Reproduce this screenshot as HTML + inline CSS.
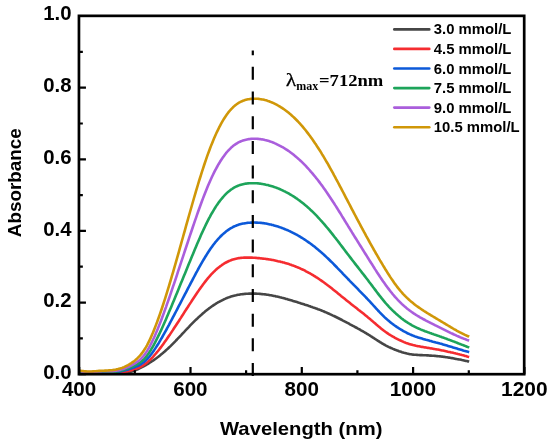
<!DOCTYPE html>
<html><head><meta charset="utf-8"><title>Absorbance spectra</title>
<style>html,body{margin:0;padding:0;background:#fff}svg{display:block}</style></head>
<body>
<svg width="550" height="444" viewBox="0 0 550 444">
<rect width="550" height="444" fill="#fff"/>
<g fill="none" stroke-width="2.6" stroke-linejoin="round" stroke-linecap="butt">
<path stroke="#464646" d="M80.0 373.3 L81.0 373.3 L82.0 373.4 L83.0 373.4 L84.0 373.4 L85.0 373.4 L86.0 373.5 L87.0 373.5 L88.0 373.5 L89.0 373.5 L90.0 373.6 L91.0 373.6 L92.0 373.6 L93.0 373.7 L94.0 373.7 L95.0 373.7 L96.0 373.7 L97.0 373.8 L98.0 373.8 L99.0 373.8 L100.0 373.8 L101.0 373.8 L102.0 373.8 L103.0 373.8 L104.0 373.8 L105.0 373.8 L106.0 373.8 L107.0 373.8 L108.0 373.8 L109.0 373.8 L110.0 373.7 L111.0 373.7 L112.0 373.7 L113.0 373.6 L114.0 373.6 L115.0 373.6 L116.0 373.5 L117.0 373.5 L118.0 373.4 L119.0 373.4 L120.0 373.3 L121.0 373.2 L122.0 373.2 L123.0 373.1 L124.0 373.0 L125.0 372.9 L126.0 372.7 L127.0 372.6 L128.0 372.4 L129.0 372.2 L130.0 372.0 L131.0 371.7 L132.0 371.5 L133.0 371.1 L134.0 370.8 L135.0 370.4 L136.0 370.0 L137.0 369.6 L138.0 369.2 L139.0 368.7 L140.0 368.2 L141.0 367.7 L142.0 367.2 L143.0 366.7 L144.0 366.1 L145.0 365.5 L146.0 365.0 L147.0 364.4 L148.0 363.8 L149.0 363.2 L150.0 362.5 L151.0 361.9 L152.0 361.2 L153.0 360.6 L154.0 359.9 L155.0 359.2 L156.0 358.5 L157.0 357.7 L158.0 357.0 L159.0 356.2 L160.0 355.4 L161.0 354.6 L162.0 353.8 L163.0 352.9 L164.0 352.1 L165.0 351.2 L166.0 350.3 L167.0 349.4 L168.0 348.5 L169.0 347.5 L170.0 346.6 L171.0 345.6 L172.0 344.6 L173.0 343.6 L174.0 342.6 L175.0 341.6 L176.0 340.5 L177.0 339.5 L178.0 338.4 L179.0 337.4 L180.0 336.3 L181.0 335.3 L182.0 334.2 L183.0 333.1 L184.0 332.1 L185.0 331.0 L186.0 329.9 L187.0 328.9 L188.0 327.8 L189.0 326.8 L190.0 325.7 L191.0 324.7 L192.0 323.7 L193.0 322.7 L194.0 321.7 L195.0 320.7 L196.0 319.7 L197.0 318.8 L198.0 317.8 L199.0 316.9 L200.0 316.0 L201.0 315.1 L202.0 314.2 L203.0 313.3 L204.0 312.5 L205.0 311.6 L206.0 310.8 L207.0 310.0 L208.0 309.2 L209.0 308.4 L210.0 307.7 L211.0 307.0 L212.0 306.3 L213.0 305.6 L214.0 304.9 L215.0 304.3 L216.0 303.6 L217.0 303.0 L218.0 302.4 L219.0 301.9 L220.0 301.3 L221.0 300.8 L222.0 300.3 L223.0 299.8 L224.0 299.3 L225.0 298.9 L226.0 298.4 L227.0 298.0 L228.0 297.6 L229.0 297.3 L230.0 296.9 L231.0 296.6 L232.0 296.3 L233.0 296.0 L234.0 295.7 L235.0 295.5 L236.0 295.3 L237.0 295.0 L238.0 294.8 L239.0 294.7 L240.0 294.5 L241.0 294.3 L242.0 294.2 L243.0 294.1 L244.0 294.0 L245.0 293.9 L246.0 293.8 L247.0 293.7 L248.0 293.7 L249.0 293.6 L250.0 293.6 L251.0 293.6 L252.0 293.6 L253.0 293.6 L254.0 293.6 L255.0 293.6 L256.0 293.6 L257.0 293.7 L258.0 293.7 L259.0 293.8 L260.0 293.9 L261.0 294.0 L262.0 294.1 L263.0 294.2 L264.0 294.3 L265.0 294.4 L266.0 294.5 L267.0 294.7 L268.0 294.8 L269.0 295.0 L270.0 295.2 L271.0 295.3 L272.0 295.5 L273.0 295.7 L274.0 295.9 L275.0 296.1 L276.0 296.4 L277.0 296.6 L278.0 296.8 L279.0 297.0 L280.0 297.3 L281.0 297.5 L282.0 297.8 L283.0 298.0 L284.0 298.3 L285.0 298.6 L286.0 298.9 L287.0 299.1 L288.0 299.4 L289.0 299.7 L290.0 300.0 L291.0 300.3 L292.0 300.6 L293.0 300.9 L294.0 301.2 L295.0 301.5 L296.0 301.8 L297.0 302.1 L298.0 302.4 L299.0 302.8 L300.0 303.1 L301.0 303.4 L302.0 303.7 L303.0 304.0 L304.0 304.3 L305.0 304.7 L306.0 305.0 L307.0 305.3 L308.0 305.6 L309.0 306.0 L310.0 306.3 L311.0 306.7 L312.0 307.0 L313.0 307.4 L314.0 307.7 L315.0 308.1 L316.0 308.4 L317.0 308.8 L318.0 309.2 L319.0 309.5 L320.0 309.9 L321.0 310.3 L322.0 310.7 L323.0 311.1 L324.0 311.5 L325.0 312.0 L326.0 312.4 L327.0 312.8 L328.0 313.3 L329.0 313.7 L330.0 314.2 L331.0 314.6 L332.0 315.1 L333.0 315.6 L334.0 316.0 L335.0 316.5 L336.0 317.0 L337.0 317.5 L338.0 318.0 L339.0 318.5 L340.0 319.0 L341.0 319.5 L342.0 320.0 L343.0 320.6 L344.0 321.1 L345.0 321.6 L346.0 322.1 L347.0 322.7 L348.0 323.2 L349.0 323.7 L350.0 324.3 L351.0 324.8 L352.0 325.3 L353.0 325.9 L354.0 326.4 L355.0 327.0 L356.0 327.5 L357.0 328.0 L358.0 328.6 L359.0 329.1 L360.0 329.7 L361.0 330.3 L362.0 330.8 L363.0 331.4 L364.0 332.0 L365.0 332.6 L366.0 333.2 L367.0 333.8 L368.0 334.4 L369.0 335.0 L370.0 335.6 L371.0 336.3 L372.0 336.9 L373.0 337.6 L374.0 338.2 L375.0 338.9 L376.0 339.5 L377.0 340.2 L378.0 340.8 L379.0 341.4 L380.0 342.1 L381.0 342.7 L382.0 343.3 L383.0 343.9 L384.0 344.5 L385.0 345.0 L386.0 345.6 L387.0 346.1 L388.0 346.6 L389.0 347.1 L390.0 347.5 L391.0 348.0 L392.0 348.4 L393.0 348.9 L394.0 349.3 L395.0 349.7 L396.0 350.1 L397.0 350.4 L398.0 350.8 L399.0 351.2 L400.0 351.5 L401.0 351.8 L402.0 352.2 L403.0 352.5 L404.0 352.8 L405.0 353.0 L406.0 353.3 L407.0 353.6 L408.0 353.8 L409.0 354.0 L410.0 354.2 L411.0 354.3 L412.0 354.5 L413.0 354.6 L414.0 354.7 L415.0 354.8 L416.0 354.8 L417.0 354.9 L418.0 355.0 L419.0 355.0 L420.0 355.1 L421.0 355.1 L422.0 355.1 L423.0 355.2 L424.0 355.2 L425.0 355.3 L426.0 355.3 L427.0 355.4 L428.0 355.4 L429.0 355.5 L430.0 355.6 L431.0 355.6 L432.0 355.7 L433.0 355.8 L434.0 355.8 L435.0 355.9 L436.0 356.0 L437.0 356.1 L438.0 356.2 L439.0 356.3 L440.0 356.4 L441.0 356.5 L442.0 356.6 L443.0 356.8 L444.0 356.9 L445.0 357.0 L446.0 357.2 L447.0 357.3 L448.0 357.5 L449.0 357.6 L450.0 357.8 L451.0 358.0 L452.0 358.1 L453.0 358.3 L454.0 358.5 L455.0 358.7 L456.0 358.9 L457.0 359.1 L458.0 359.2 L459.0 359.4 L460.0 359.6 L461.0 359.8 L462.0 360.1 L463.0 360.3 L464.0 360.5 L465.0 360.7 L466.0 360.9 L467.0 361.1 L468.0 361.4 L468.8 361.5 L469.2 361.6"/>
<path stroke="#F52C30" d="M80.0 373.1 L81.0 373.2 L82.0 373.3 L83.0 373.4 L84.0 373.5 L85.0 373.6 L86.0 373.6 L87.0 373.7 L88.0 373.7 L89.0 373.7 L90.0 373.7 L91.0 373.7 L92.0 373.7 L93.0 373.7 L94.0 373.6 L95.0 373.6 L96.0 373.6 L97.0 373.5 L98.0 373.5 L99.0 373.5 L100.0 373.4 L101.0 373.4 L102.0 373.4 L103.0 373.4 L104.0 373.4 L105.0 373.3 L106.0 373.3 L107.0 373.3 L108.0 373.3 L109.0 373.2 L110.0 373.2 L111.0 373.2 L112.0 373.1 L113.0 373.1 L114.0 373.0 L115.0 373.0 L116.0 372.9 L117.0 372.8 L118.0 372.7 L119.0 372.6 L120.0 372.5 L121.0 372.4 L122.0 372.3 L123.0 372.1 L124.0 371.9 L125.0 371.8 L126.0 371.6 L127.0 371.4 L128.0 371.1 L129.0 370.9 L130.0 370.6 L131.0 370.4 L132.0 370.1 L133.0 369.8 L134.0 369.5 L135.0 369.1 L136.0 368.8 L137.0 368.4 L138.0 368.0 L139.0 367.5 L140.0 367.0 L141.0 366.5 L142.0 366.0 L143.0 365.4 L144.0 364.7 L145.0 364.0 L146.0 363.3 L147.0 362.5 L148.0 361.6 L149.0 360.7 L150.0 359.8 L151.0 358.8 L152.0 357.8 L153.0 356.8 L154.0 355.7 L155.0 354.5 L156.0 353.4 L157.0 352.2 L158.0 351.0 L159.0 349.7 L160.0 348.4 L161.0 347.1 L162.0 345.8 L163.0 344.4 L164.0 343.0 L165.0 341.6 L166.0 340.2 L167.0 338.8 L168.0 337.3 L169.0 335.8 L170.0 334.4 L171.0 332.9 L172.0 331.4 L173.0 329.9 L174.0 328.3 L175.0 326.8 L176.0 325.3 L177.0 323.7 L178.0 322.2 L179.0 320.7 L180.0 319.1 L181.0 317.6 L182.0 316.0 L183.0 314.5 L184.0 312.9 L185.0 311.3 L186.0 309.8 L187.0 308.2 L188.0 306.7 L189.0 305.1 L190.0 303.6 L191.0 302.1 L192.0 300.5 L193.0 299.0 L194.0 297.5 L195.0 296.0 L196.0 294.5 L197.0 293.0 L198.0 291.6 L199.0 290.1 L200.0 288.7 L201.0 287.3 L202.0 285.9 L203.0 284.5 L204.0 283.2 L205.0 281.9 L206.0 280.6 L207.0 279.4 L208.0 278.2 L209.0 277.0 L210.0 275.8 L211.0 274.7 L212.0 273.7 L213.0 272.6 L214.0 271.6 L215.0 270.7 L216.0 269.7 L217.0 268.8 L218.0 268.0 L219.0 267.2 L220.0 266.4 L221.0 265.7 L222.0 264.9 L223.0 264.3 L224.0 263.6 L225.0 263.0 L226.0 262.5 L227.0 262.0 L228.0 261.5 L229.0 261.0 L230.0 260.6 L231.0 260.2 L232.0 259.8 L233.0 259.5 L234.0 259.2 L235.0 258.9 L236.0 258.7 L237.0 258.5 L238.0 258.3 L239.0 258.1 L240.0 258.0 L241.0 257.9 L242.0 257.8 L243.0 257.7 L244.0 257.6 L245.0 257.6 L246.0 257.6 L247.0 257.6 L248.0 257.5 L249.0 257.6 L250.0 257.6 L251.0 257.6 L252.0 257.6 L253.0 257.7 L254.0 257.8 L255.0 257.8 L256.0 257.9 L257.0 258.0 L258.0 258.1 L259.0 258.1 L260.0 258.2 L261.0 258.4 L262.0 258.5 L263.0 258.6 L264.0 258.7 L265.0 258.8 L266.0 259.0 L267.0 259.1 L268.0 259.3 L269.0 259.4 L270.0 259.6 L271.0 259.8 L272.0 259.9 L273.0 260.1 L274.0 260.3 L275.0 260.5 L276.0 260.7 L277.0 260.9 L278.0 261.2 L279.0 261.4 L280.0 261.6 L281.0 261.9 L282.0 262.1 L283.0 262.4 L284.0 262.6 L285.0 262.9 L286.0 263.2 L287.0 263.5 L288.0 263.8 L289.0 264.1 L290.0 264.5 L291.0 264.8 L292.0 265.2 L293.0 265.5 L294.0 265.9 L295.0 266.3 L296.0 266.7 L297.0 267.1 L298.0 267.5 L299.0 267.9 L300.0 268.3 L301.0 268.8 L302.0 269.3 L303.0 269.7 L304.0 270.2 L305.0 270.7 L306.0 271.3 L307.0 271.8 L308.0 272.3 L309.0 272.9 L310.0 273.4 L311.0 274.0 L312.0 274.6 L313.0 275.2 L314.0 275.8 L315.0 276.4 L316.0 277.1 L317.0 277.7 L318.0 278.3 L319.0 279.0 L320.0 279.7 L321.0 280.4 L322.0 281.1 L323.0 281.8 L324.0 282.5 L325.0 283.2 L326.0 284.0 L327.0 284.7 L328.0 285.5 L329.0 286.2 L330.0 287.0 L331.0 287.8 L332.0 288.6 L333.0 289.4 L334.0 290.2 L335.0 291.0 L336.0 291.8 L337.0 292.6 L338.0 293.4 L339.0 294.2 L340.0 295.0 L341.0 295.9 L342.0 296.7 L343.0 297.5 L344.0 298.3 L345.0 299.1 L346.0 299.9 L347.0 300.7 L348.0 301.5 L349.0 302.3 L350.0 303.1 L351.0 303.9 L352.0 304.7 L353.0 305.5 L354.0 306.3 L355.0 307.0 L356.0 307.8 L357.0 308.6 L358.0 309.4 L359.0 310.2 L360.0 310.9 L361.0 311.7 L362.0 312.5 L363.0 313.3 L364.0 314.1 L365.0 314.9 L366.0 315.7 L367.0 316.5 L368.0 317.4 L369.0 318.2 L370.0 319.0 L371.0 319.9 L372.0 320.7 L373.0 321.6 L374.0 322.5 L375.0 323.3 L376.0 324.2 L377.0 325.1 L378.0 325.9 L379.0 326.8 L380.0 327.6 L381.0 328.4 L382.0 329.2 L383.0 330.0 L384.0 330.8 L385.0 331.5 L386.0 332.2 L387.0 332.9 L388.0 333.6 L389.0 334.3 L390.0 334.9 L391.0 335.5 L392.0 336.1 L393.0 336.7 L394.0 337.2 L395.0 337.8 L396.0 338.3 L397.0 338.8 L398.0 339.3 L399.0 339.8 L400.0 340.3 L401.0 340.7 L402.0 341.2 L403.0 341.6 L404.0 342.1 L405.0 342.5 L406.0 342.9 L407.0 343.2 L408.0 343.6 L409.0 343.9 L410.0 344.2 L411.0 344.5 L412.0 344.8 L413.0 345.1 L414.0 345.3 L415.0 345.5 L416.0 345.8 L417.0 346.0 L418.0 346.2 L419.0 346.3 L420.0 346.5 L421.0 346.7 L422.0 346.9 L423.0 347.0 L424.0 347.2 L425.0 347.4 L426.0 347.5 L427.0 347.7 L428.0 347.9 L429.0 348.0 L430.0 348.2 L431.0 348.4 L432.0 348.5 L433.0 348.7 L434.0 348.9 L435.0 349.1 L436.0 349.2 L437.0 349.4 L438.0 349.6 L439.0 349.8 L440.0 350.0 L441.0 350.2 L442.0 350.4 L443.0 350.6 L444.0 350.8 L445.0 351.0 L446.0 351.2 L447.0 351.4 L448.0 351.7 L449.0 351.9 L450.0 352.1 L451.0 352.4 L452.0 352.6 L453.0 352.8 L454.0 353.1 L455.0 353.3 L456.0 353.6 L457.0 353.8 L458.0 354.1 L459.0 354.3 L460.0 354.6 L461.0 354.8 L462.0 355.1 L463.0 355.3 L464.0 355.6 L465.0 355.9 L466.0 356.1 L467.0 356.4 L468.0 356.7 L468.8 356.9 L469.2 357.0"/>
<path stroke="#0C59D9" d="M80.0 372.2 L81.0 372.4 L82.0 372.6 L83.0 372.7 L84.0 372.8 L85.0 372.9 L86.0 373.0 L87.0 373.0 L88.0 373.0 L89.0 373.1 L90.0 373.1 L91.0 373.0 L92.0 373.0 L93.0 373.0 L94.0 372.9 L95.0 372.9 L96.0 372.8 L97.0 372.8 L98.0 372.7 L99.0 372.7 L100.0 372.7 L101.0 372.6 L102.0 372.6 L103.0 372.6 L104.0 372.6 L105.0 372.6 L106.0 372.6 L107.0 372.5 L108.0 372.5 L109.0 372.5 L110.0 372.5 L111.0 372.4 L112.0 372.4 L113.0 372.3 L114.0 372.3 L115.0 372.2 L116.0 372.1 L117.0 372.0 L118.0 371.8 L119.0 371.7 L120.0 371.5 L121.0 371.3 L122.0 371.1 L123.0 370.8 L124.0 370.6 L125.0 370.3 L126.0 370.0 L127.0 369.8 L128.0 369.5 L129.0 369.1 L130.0 368.8 L131.0 368.5 L132.0 368.1 L133.0 367.8 L134.0 367.4 L135.0 367.1 L136.0 366.7 L137.0 366.2 L138.0 365.8 L139.0 365.3 L140.0 364.7 L141.0 364.1 L142.0 363.5 L143.0 362.7 L144.0 362.0 L145.0 361.1 L146.0 360.2 L147.0 359.2 L148.0 358.1 L149.0 357.0 L150.0 355.8 L151.0 354.5 L152.0 353.2 L153.0 351.8 L154.0 350.4 L155.0 348.9 L156.0 347.4 L157.0 345.8 L158.0 344.2 L159.0 342.6 L160.0 340.9 L161.0 339.2 L162.0 337.5 L163.0 335.7 L164.0 333.9 L165.0 332.1 L166.0 330.3 L167.0 328.5 L168.0 326.6 L169.0 324.8 L170.0 322.9 L171.0 321.0 L172.0 319.1 L173.0 317.2 L174.0 315.3 L175.0 313.4 L176.0 311.5 L177.0 309.6 L178.0 307.6 L179.0 305.7 L180.0 303.8 L181.0 301.9 L182.0 300.0 L183.0 298.0 L184.0 296.1 L185.0 294.2 L186.0 292.3 L187.0 290.4 L188.0 288.4 L189.0 286.5 L190.0 284.6 L191.0 282.7 L192.0 280.8 L193.0 278.9 L194.0 277.0 L195.0 275.1 L196.0 273.2 L197.0 271.4 L198.0 269.5 L199.0 267.7 L200.0 265.9 L201.0 264.1 L202.0 262.4 L203.0 260.7 L204.0 259.0 L205.0 257.3 L206.0 255.7 L207.0 254.1 L208.0 252.5 L209.0 251.0 L210.0 249.5 L211.0 248.1 L212.0 246.7 L213.0 245.3 L214.0 244.0 L215.0 242.7 L216.0 241.5 L217.0 240.3 L218.0 239.2 L219.0 238.1 L220.0 237.0 L221.0 236.0 L222.0 235.0 L223.0 234.1 L224.0 233.2 L225.0 232.4 L226.0 231.6 L227.0 230.8 L228.0 230.1 L229.0 229.4 L230.0 228.7 L231.0 228.1 L232.0 227.6 L233.0 227.0 L234.0 226.5 L235.0 226.1 L236.0 225.7 L237.0 225.3 L238.0 224.9 L239.0 224.6 L240.0 224.3 L241.0 224.0 L242.0 223.8 L243.0 223.6 L244.0 223.4 L245.0 223.2 L246.0 223.1 L247.0 222.9 L248.0 222.8 L249.0 222.7 L250.0 222.7 L251.0 222.6 L252.0 222.6 L253.0 222.6 L254.0 222.5 L255.0 222.5 L256.0 222.6 L257.0 222.6 L258.0 222.7 L259.0 222.7 L260.0 222.8 L261.0 222.9 L262.0 223.0 L263.0 223.1 L264.0 223.3 L265.0 223.4 L266.0 223.6 L267.0 223.8 L268.0 224.0 L269.0 224.2 L270.0 224.4 L271.0 224.6 L272.0 224.9 L273.0 225.1 L274.0 225.4 L275.0 225.7 L276.0 226.0 L277.0 226.3 L278.0 226.6 L279.0 226.9 L280.0 227.3 L281.0 227.6 L282.0 228.0 L283.0 228.4 L284.0 228.8 L285.0 229.2 L286.0 229.6 L287.0 230.0 L288.0 230.4 L289.0 230.9 L290.0 231.3 L291.0 231.8 L292.0 232.3 L293.0 232.8 L294.0 233.3 L295.0 233.8 L296.0 234.4 L297.0 234.9 L298.0 235.5 L299.0 236.1 L300.0 236.7 L301.0 237.3 L302.0 237.9 L303.0 238.5 L304.0 239.2 L305.0 239.8 L306.0 240.5 L307.0 241.2 L308.0 241.9 L309.0 242.6 L310.0 243.3 L311.0 244.0 L312.0 244.8 L313.0 245.6 L314.0 246.3 L315.0 247.1 L316.0 247.9 L317.0 248.7 L318.0 249.6 L319.0 250.4 L320.0 251.2 L321.0 252.1 L322.0 253.0 L323.0 253.9 L324.0 254.8 L325.0 255.7 L326.0 256.6 L327.0 257.6 L328.0 258.5 L329.0 259.5 L330.0 260.5 L331.0 261.5 L332.0 262.4 L333.0 263.4 L334.0 264.5 L335.0 265.5 L336.0 266.5 L337.0 267.5 L338.0 268.6 L339.0 269.6 L340.0 270.6 L341.0 271.7 L342.0 272.7 L343.0 273.8 L344.0 274.8 L345.0 275.9 L346.0 276.9 L347.0 277.9 L348.0 279.0 L349.0 280.0 L350.0 281.1 L351.0 282.1 L352.0 283.1 L353.0 284.1 L354.0 285.2 L355.0 286.2 L356.0 287.2 L357.0 288.2 L358.0 289.2 L359.0 290.3 L360.0 291.3 L361.0 292.3 L362.0 293.3 L363.0 294.4 L364.0 295.4 L365.0 296.4 L366.0 297.5 L367.0 298.5 L368.0 299.6 L369.0 300.7 L370.0 301.7 L371.0 302.8 L372.0 303.9 L373.0 305.0 L374.0 306.1 L375.0 307.2 L376.0 308.3 L377.0 309.4 L378.0 310.5 L379.0 311.5 L380.0 312.6 L381.0 313.6 L382.0 314.6 L383.0 315.6 L384.0 316.6 L385.0 317.6 L386.0 318.5 L387.0 319.4 L388.0 320.3 L389.0 321.1 L390.0 321.9 L391.0 322.7 L392.0 323.5 L393.0 324.2 L394.0 325.0 L395.0 325.7 L396.0 326.4 L397.0 327.1 L398.0 327.7 L399.0 328.4 L400.0 329.0 L401.0 329.6 L402.0 330.2 L403.0 330.8 L404.0 331.4 L405.0 331.9 L406.0 332.4 L407.0 333.0 L408.0 333.5 L409.0 333.9 L410.0 334.4 L411.0 334.8 L412.0 335.2 L413.0 335.6 L414.0 336.0 L415.0 336.4 L416.0 336.7 L417.0 337.1 L418.0 337.4 L419.0 337.7 L420.0 338.0 L421.0 338.3 L422.0 338.6 L423.0 338.9 L424.0 339.2 L425.0 339.5 L426.0 339.8 L427.0 340.0 L428.0 340.3 L429.0 340.6 L430.0 340.9 L431.0 341.1 L432.0 341.4 L433.0 341.7 L434.0 341.9 L435.0 342.2 L436.0 342.5 L437.0 342.7 L438.0 343.0 L439.0 343.3 L440.0 343.6 L441.0 343.8 L442.0 344.1 L443.0 344.4 L444.0 344.7 L445.0 345.0 L446.0 345.3 L447.0 345.6 L448.0 345.9 L449.0 346.2 L450.0 346.5 L451.0 346.8 L452.0 347.1 L453.0 347.4 L454.0 347.7 L455.0 348.0 L456.0 348.3 L457.0 348.6 L458.0 348.9 L459.0 349.2 L460.0 349.5 L461.0 349.8 L462.0 350.1 L463.0 350.4 L464.0 350.7 L465.0 350.9 L466.0 351.2 L467.0 351.5 L468.0 351.8 L468.8 352.1 L469.2 352.2"/>
<path stroke="#1DA45A" d="M80.0 371.7 L81.0 371.9 L82.0 372.1 L83.0 372.2 L84.0 372.3 L85.0 372.4 L86.0 372.5 L87.0 372.5 L88.0 372.5 L89.0 372.5 L90.0 372.5 L91.0 372.5 L92.0 372.4 L93.0 372.4 L94.0 372.3 L95.0 372.2 L96.0 372.2 L97.0 372.1 L98.0 372.1 L99.0 372.0 L100.0 372.0 L101.0 372.0 L102.0 372.0 L103.0 372.0 L104.0 372.0 L105.0 372.0 L106.0 372.0 L107.0 372.0 L108.0 372.0 L109.0 372.0 L110.0 372.0 L111.0 372.0 L112.0 371.9 L113.0 371.9 L114.0 371.8 L115.0 371.7 L116.0 371.6 L117.0 371.5 L118.0 371.3 L119.0 371.1 L120.0 370.9 L121.0 370.6 L122.0 370.4 L123.0 370.1 L124.0 369.8 L125.0 369.4 L126.0 369.1 L127.0 368.7 L128.0 368.3 L129.0 368.0 L130.0 367.6 L131.0 367.1 L132.0 366.7 L133.0 366.3 L134.0 365.8 L135.0 365.4 L136.0 364.9 L137.0 364.4 L138.0 363.8 L139.0 363.2 L140.0 362.5 L141.0 361.8 L142.0 360.9 L143.0 360.1 L144.0 359.1 L145.0 358.0 L146.0 356.9 L147.0 355.6 L148.0 354.3 L149.0 352.8 L150.0 351.3 L151.0 349.7 L152.0 348.0 L153.0 346.3 L154.0 344.5 L155.0 342.6 L156.0 340.7 L157.0 338.7 L158.0 336.7 L159.0 334.6 L160.0 332.5 L161.0 330.4 L162.0 328.2 L163.0 326.0 L164.0 323.7 L165.0 321.5 L166.0 319.2 L167.0 316.8 L168.0 314.5 L169.0 312.1 L170.0 309.8 L171.0 307.4 L172.0 305.0 L173.0 302.6 L174.0 300.2 L175.0 297.7 L176.0 295.3 L177.0 292.9 L178.0 290.5 L179.0 288.0 L180.0 285.6 L181.0 283.1 L182.0 280.7 L183.0 278.3 L184.0 275.8 L185.0 273.4 L186.0 270.9 L187.0 268.5 L188.0 266.0 L189.0 263.6 L190.0 261.2 L191.0 258.7 L192.0 256.3 L193.0 253.9 L194.0 251.5 L195.0 249.1 L196.0 246.7 L197.0 244.3 L198.0 242.0 L199.0 239.7 L200.0 237.4 L201.0 235.1 L202.0 232.9 L203.0 230.7 L204.0 228.6 L205.0 226.5 L206.0 224.4 L207.0 222.4 L208.0 220.4 L209.0 218.4 L210.0 216.6 L211.0 214.7 L212.0 213.0 L213.0 211.3 L214.0 209.6 L215.0 208.0 L216.0 206.4 L217.0 204.9 L218.0 203.5 L219.0 202.1 L220.0 200.8 L221.0 199.5 L222.0 198.3 L223.0 197.1 L224.0 196.0 L225.0 194.9 L226.0 193.9 L227.0 192.9 L228.0 192.0 L229.0 191.2 L230.0 190.4 L231.0 189.6 L232.0 189.0 L233.0 188.3 L234.0 187.7 L235.0 187.2 L236.0 186.7 L237.0 186.2 L238.0 185.8 L239.0 185.4 L240.0 185.0 L241.0 184.7 L242.0 184.4 L243.0 184.2 L244.0 184.0 L245.0 183.8 L246.0 183.6 L247.0 183.5 L248.0 183.4 L249.0 183.3 L250.0 183.2 L251.0 183.2 L252.0 183.2 L253.0 183.2 L254.0 183.2 L255.0 183.2 L256.0 183.3 L257.0 183.3 L258.0 183.4 L259.0 183.5 L260.0 183.6 L261.0 183.7 L262.0 183.9 L263.0 184.1 L264.0 184.2 L265.0 184.4 L266.0 184.7 L267.0 184.9 L268.0 185.1 L269.0 185.4 L270.0 185.7 L271.0 186.0 L272.0 186.3 L273.0 186.6 L274.0 186.9 L275.0 187.3 L276.0 187.6 L277.0 188.0 L278.0 188.4 L279.0 188.8 L280.0 189.2 L281.0 189.7 L282.0 190.1 L283.0 190.6 L284.0 191.1 L285.0 191.5 L286.0 192.1 L287.0 192.6 L288.0 193.1 L289.0 193.7 L290.0 194.3 L291.0 194.9 L292.0 195.5 L293.0 196.1 L294.0 196.7 L295.0 197.4 L296.0 198.1 L297.0 198.7 L298.0 199.5 L299.0 200.2 L300.0 200.9 L301.0 201.7 L302.0 202.5 L303.0 203.3 L304.0 204.1 L305.0 204.9 L306.0 205.8 L307.0 206.6 L308.0 207.5 L309.0 208.4 L310.0 209.3 L311.0 210.3 L312.0 211.2 L313.0 212.2 L314.0 213.2 L315.0 214.2 L316.0 215.2 L317.0 216.2 L318.0 217.3 L319.0 218.4 L320.0 219.5 L321.0 220.6 L322.0 221.7 L323.0 222.8 L324.0 223.9 L325.0 225.1 L326.0 226.3 L327.0 227.5 L328.0 228.7 L329.0 229.9 L330.0 231.1 L331.0 232.4 L332.0 233.6 L333.0 234.9 L334.0 236.2 L335.0 237.5 L336.0 238.7 L337.0 240.0 L338.0 241.3 L339.0 242.6 L340.0 244.0 L341.0 245.3 L342.0 246.6 L343.0 247.9 L344.0 249.2 L345.0 250.5 L346.0 251.9 L347.0 253.2 L348.0 254.5 L349.0 255.8 L350.0 257.1 L351.0 258.4 L352.0 259.7 L353.0 261.0 L354.0 262.3 L355.0 263.6 L356.0 264.9 L357.0 266.1 L358.0 267.4 L359.0 268.7 L360.0 270.0 L361.0 271.3 L362.0 272.6 L363.0 273.8 L364.0 275.1 L365.0 276.4 L366.0 277.7 L367.0 279.0 L368.0 280.3 L369.0 281.7 L370.0 283.0 L371.0 284.3 L372.0 285.6 L373.0 287.0 L374.0 288.3 L375.0 289.6 L376.0 290.9 L377.0 292.3 L378.0 293.6 L379.0 294.9 L380.0 296.2 L381.0 297.4 L382.0 298.7 L383.0 299.9 L384.0 301.1 L385.0 302.3 L386.0 303.5 L387.0 304.6 L388.0 305.7 L389.0 306.8 L390.0 307.8 L391.0 308.9 L392.0 309.9 L393.0 310.9 L394.0 311.8 L395.0 312.7 L396.0 313.7 L397.0 314.5 L398.0 315.4 L399.0 316.3 L400.0 317.1 L401.0 317.9 L402.0 318.7 L403.0 319.4 L404.0 320.2 L405.0 320.9 L406.0 321.6 L407.0 322.2 L408.0 322.9 L409.0 323.5 L410.0 324.1 L411.0 324.7 L412.0 325.3 L413.0 325.8 L414.0 326.3 L415.0 326.8 L416.0 327.3 L417.0 327.8 L418.0 328.3 L419.0 328.7 L420.0 329.1 L421.0 329.6 L422.0 330.0 L423.0 330.4 L424.0 330.8 L425.0 331.2 L426.0 331.5 L427.0 331.9 L428.0 332.3 L429.0 332.6 L430.0 333.0 L431.0 333.3 L432.0 333.7 L433.0 334.0 L434.0 334.4 L435.0 334.7 L436.0 335.1 L437.0 335.4 L438.0 335.8 L439.0 336.1 L440.0 336.5 L441.0 336.8 L442.0 337.2 L443.0 337.5 L444.0 337.9 L445.0 338.3 L446.0 338.6 L447.0 339.0 L448.0 339.4 L449.0 339.7 L450.0 340.1 L451.0 340.5 L452.0 340.9 L453.0 341.3 L454.0 341.6 L455.0 342.0 L456.0 342.4 L457.0 342.8 L458.0 343.2 L459.0 343.6 L460.0 344.0 L461.0 344.4 L462.0 344.8 L463.0 345.1 L464.0 345.5 L465.0 345.9 L466.0 346.3 L467.0 346.7 L468.0 347.1 L468.8 347.4 L469.2 347.6"/>
<path stroke="#AA5EDC" d="M80.0 371.0 L81.0 371.3 L82.0 371.5 L83.0 371.7 L84.0 371.8 L85.0 371.9 L86.0 372.0 L87.0 372.0 L88.0 372.0 L89.0 372.0 L90.0 372.0 L91.0 372.0 L92.0 371.9 L93.0 371.9 L94.0 371.8 L95.0 371.7 L96.0 371.6 L97.0 371.6 L98.0 371.5 L99.0 371.5 L100.0 371.4 L101.0 371.4 L102.0 371.3 L103.0 371.3 L104.0 371.3 L105.0 371.3 L106.0 371.3 L107.0 371.3 L108.0 371.3 L109.0 371.3 L110.0 371.2 L111.0 371.2 L112.0 371.1 L113.0 371.1 L114.0 371.0 L115.0 370.9 L116.0 370.7 L117.0 370.6 L118.0 370.4 L119.0 370.2 L120.0 369.9 L121.0 369.6 L122.0 369.3 L123.0 369.0 L124.0 368.7 L125.0 368.3 L126.0 367.9 L127.0 367.4 L128.0 367.0 L129.0 366.5 L130.0 366.0 L131.0 365.5 L132.0 365.0 L133.0 364.5 L134.0 363.9 L135.0 363.3 L136.0 362.7 L137.0 362.0 L138.0 361.3 L139.0 360.5 L140.0 359.6 L141.0 358.7 L142.0 357.7 L143.0 356.6 L144.0 355.4 L145.0 354.0 L146.0 352.6 L147.0 351.1 L148.0 349.4 L149.0 347.7 L150.0 345.9 L151.0 343.9 L152.0 341.9 L153.0 339.8 L154.0 337.7 L155.0 335.4 L156.0 333.1 L157.0 330.7 L158.0 328.3 L159.0 325.8 L160.0 323.3 L161.0 320.7 L162.0 318.0 L163.0 315.3 L164.0 312.6 L165.0 309.8 L166.0 307.1 L167.0 304.2 L168.0 301.4 L169.0 298.5 L170.0 295.6 L171.0 292.6 L172.0 289.7 L173.0 286.7 L174.0 283.8 L175.0 280.8 L176.0 277.8 L177.0 274.8 L178.0 271.7 L179.0 268.7 L180.0 265.7 L181.0 262.7 L182.0 259.6 L183.0 256.6 L184.0 253.6 L185.0 250.5 L186.0 247.5 L187.0 244.5 L188.0 241.5 L189.0 238.4 L190.0 235.4 L191.0 232.5 L192.0 229.5 L193.0 226.5 L194.0 223.6 L195.0 220.7 L196.0 217.8 L197.0 214.9 L198.0 212.0 L199.0 209.2 L200.0 206.5 L201.0 203.7 L202.0 201.0 L203.0 198.4 L204.0 195.8 L205.0 193.2 L206.0 190.7 L207.0 188.2 L208.0 185.8 L209.0 183.5 L210.0 181.2 L211.0 179.0 L212.0 176.8 L213.0 174.7 L214.0 172.7 L215.0 170.7 L216.0 168.8 L217.0 167.0 L218.0 165.2 L219.0 163.5 L220.0 161.8 L221.0 160.2 L222.0 158.7 L223.0 157.3 L224.0 155.9 L225.0 154.5 L226.0 153.2 L227.0 152.0 L228.0 150.9 L229.0 149.8 L230.0 148.8 L231.0 147.8 L232.0 146.9 L233.0 146.1 L234.0 145.3 L235.0 144.6 L236.0 143.9 L237.0 143.3 L238.0 142.7 L239.0 142.2 L240.0 141.7 L241.0 141.3 L242.0 140.9 L243.0 140.5 L244.0 140.2 L245.0 139.9 L246.0 139.7 L247.0 139.5 L248.0 139.3 L249.0 139.1 L250.0 139.0 L251.0 138.9 L252.0 138.8 L253.0 138.8 L254.0 138.7 L255.0 138.7 L256.0 138.8 L257.0 138.8 L258.0 138.9 L259.0 139.0 L260.0 139.1 L261.0 139.2 L262.0 139.4 L263.0 139.5 L264.0 139.7 L265.0 140.0 L266.0 140.2 L267.0 140.5 L268.0 140.8 L269.0 141.1 L270.0 141.4 L271.0 141.8 L272.0 142.1 L273.0 142.5 L274.0 142.9 L275.0 143.4 L276.0 143.8 L277.0 144.3 L278.0 144.8 L279.0 145.3 L280.0 145.8 L281.0 146.3 L282.0 146.9 L283.0 147.4 L284.0 148.0 L285.0 148.7 L286.0 149.3 L287.0 149.9 L288.0 150.6 L289.0 151.3 L290.0 152.0 L291.0 152.8 L292.0 153.5 L293.0 154.3 L294.0 155.1 L295.0 155.9 L296.0 156.7 L297.0 157.6 L298.0 158.5 L299.0 159.4 L300.0 160.3 L301.0 161.2 L302.0 162.2 L303.0 163.2 L304.0 164.2 L305.0 165.2 L306.0 166.2 L307.0 167.3 L308.0 168.4 L309.0 169.5 L310.0 170.6 L311.0 171.8 L312.0 172.9 L313.0 174.1 L314.0 175.3 L315.0 176.5 L316.0 177.8 L317.0 179.0 L318.0 180.3 L319.0 181.6 L320.0 182.9 L321.0 184.3 L322.0 185.6 L323.0 187.0 L324.0 188.4 L325.0 189.8 L326.0 191.3 L327.0 192.7 L328.0 194.2 L329.0 195.7 L330.0 197.2 L331.0 198.7 L332.0 200.2 L333.0 201.8 L334.0 203.3 L335.0 204.9 L336.0 206.4 L337.0 208.0 L338.0 209.6 L339.0 211.2 L340.0 212.8 L341.0 214.4 L342.0 216.1 L343.0 217.7 L344.0 219.3 L345.0 221.0 L346.0 222.6 L347.0 224.2 L348.0 225.9 L349.0 227.5 L350.0 229.1 L351.0 230.7 L352.0 232.4 L353.0 234.0 L354.0 235.6 L355.0 237.2 L356.0 238.8 L357.0 240.4 L358.0 242.0 L359.0 243.6 L360.0 245.2 L361.0 246.8 L362.0 248.4 L363.0 250.0 L364.0 251.6 L365.0 253.2 L366.0 254.8 L367.0 256.4 L368.0 258.0 L369.0 259.6 L370.0 261.2 L371.0 262.8 L372.0 264.3 L373.0 265.9 L374.0 267.5 L375.0 269.1 L376.0 270.6 L377.0 272.2 L378.0 273.7 L379.0 275.2 L380.0 276.8 L381.0 278.2 L382.0 279.7 L383.0 281.2 L384.0 282.6 L385.0 284.0 L386.0 285.4 L387.0 286.8 L388.0 288.1 L389.0 289.4 L390.0 290.7 L391.0 292.0 L392.0 293.2 L393.0 294.5 L394.0 295.6 L395.0 296.8 L396.0 297.9 L397.0 299.0 L398.0 300.1 L399.0 301.1 L400.0 302.1 L401.0 303.1 L402.0 304.1 L403.0 305.0 L404.0 305.9 L405.0 306.8 L406.0 307.6 L407.0 308.5 L408.0 309.3 L409.0 310.0 L410.0 310.8 L411.0 311.5 L412.0 312.2 L413.0 312.9 L414.0 313.6 L415.0 314.2 L416.0 314.9 L417.0 315.5 L418.0 316.1 L419.0 316.7 L420.0 317.3 L421.0 317.8 L422.0 318.4 L423.0 319.0 L424.0 319.5 L425.0 320.0 L426.0 320.6 L427.0 321.1 L428.0 321.6 L429.0 322.1 L430.0 322.6 L431.0 323.2 L432.0 323.7 L433.0 324.2 L434.0 324.7 L435.0 325.2 L436.0 325.6 L437.0 326.1 L438.0 326.6 L439.0 327.1 L440.0 327.6 L441.0 328.1 L442.0 328.6 L443.0 329.1 L444.0 329.6 L445.0 330.1 L446.0 330.6 L447.0 331.1 L448.0 331.6 L449.0 332.1 L450.0 332.6 L451.0 333.1 L452.0 333.5 L453.0 334.0 L454.0 334.5 L455.0 334.9 L456.0 335.4 L457.0 335.9 L458.0 336.3 L459.0 336.7 L460.0 337.2 L461.0 337.6 L462.0 338.0 L463.0 338.4 L464.0 338.8 L465.0 339.1 L466.0 339.5 L467.0 339.9 L468.0 340.2 L468.8 340.5 L469.2 340.6"/>
<path stroke="#D09708" d="M80.0 370.4 L81.0 370.7 L82.0 370.9 L83.0 371.1 L84.0 371.3 L85.0 371.4 L86.0 371.4 L87.0 371.5 L88.0 371.5 L89.0 371.5 L90.0 371.5 L91.0 371.5 L92.0 371.5 L93.0 371.4 L94.0 371.3 L95.0 371.3 L96.0 371.2 L97.0 371.1 L98.0 371.0 L99.0 370.9 L100.0 370.9 L101.0 370.8 L102.0 370.8 L103.0 370.7 L104.0 370.7 L105.0 370.6 L106.0 370.6 L107.0 370.5 L108.0 370.5 L109.0 370.4 L110.0 370.3 L111.0 370.3 L112.0 370.2 L113.0 370.0 L114.0 369.9 L115.0 369.7 L116.0 369.6 L117.0 369.3 L118.0 369.1 L119.0 368.8 L120.0 368.6 L121.0 368.2 L122.0 367.9 L123.0 367.5 L124.0 367.1 L125.0 366.6 L126.0 366.1 L127.0 365.6 L128.0 365.1 L129.0 364.5 L130.0 363.9 L131.0 363.3 L132.0 362.6 L133.0 361.9 L134.0 361.2 L135.0 360.4 L136.0 359.5 L137.0 358.7 L138.0 357.7 L139.0 356.7 L140.0 355.6 L141.0 354.4 L142.0 353.1 L143.0 351.8 L144.0 350.3 L145.0 348.7 L146.0 347.1 L147.0 345.3 L148.0 343.4 L149.0 341.4 L150.0 339.3 L151.0 337.1 L152.0 334.8 L153.0 332.5 L154.0 330.0 L155.0 327.5 L156.0 324.9 L157.0 322.3 L158.0 319.5 L159.0 316.7 L160.0 313.9 L161.0 311.0 L162.0 308.0 L163.0 305.0 L164.0 301.9 L165.0 298.8 L166.0 295.6 L167.0 292.4 L168.0 289.1 L169.0 285.8 L170.0 282.5 L171.0 279.1 L172.0 275.7 L173.0 272.3 L174.0 268.9 L175.0 265.4 L176.0 261.9 L177.0 258.4 L178.0 254.8 L179.0 251.3 L180.0 247.7 L181.0 244.1 L182.0 240.5 L183.0 237.0 L184.0 233.4 L185.0 229.8 L186.0 226.2 L187.0 222.6 L188.0 219.1 L189.0 215.5 L190.0 212.0 L191.0 208.5 L192.0 205.0 L193.0 201.5 L194.0 198.0 L195.0 194.6 L196.0 191.2 L197.0 187.9 L198.0 184.5 L199.0 181.2 L200.0 178.0 L201.0 174.8 L202.0 171.7 L203.0 168.6 L204.0 165.5 L205.0 162.5 L206.0 159.6 L207.0 156.7 L208.0 153.9 L209.0 151.2 L210.0 148.5 L211.0 145.9 L212.0 143.4 L213.0 140.9 L214.0 138.6 L215.0 136.2 L216.0 134.0 L217.0 131.8 L218.0 129.8 L219.0 127.7 L220.0 125.8 L221.0 123.9 L222.0 122.1 L223.0 120.4 L224.0 118.8 L225.0 117.2 L226.0 115.7 L227.0 114.3 L228.0 112.9 L229.0 111.7 L230.0 110.5 L231.0 109.3 L232.0 108.3 L233.0 107.3 L234.0 106.4 L235.0 105.5 L236.0 104.7 L237.0 104.0 L238.0 103.3 L239.0 102.7 L240.0 102.2 L241.0 101.6 L242.0 101.2 L243.0 100.8 L244.0 100.4 L245.0 100.1 L246.0 99.8 L247.0 99.5 L248.0 99.3 L249.0 99.2 L250.0 99.0 L251.0 98.9 L252.0 98.8 L253.0 98.7 L254.0 98.7 L255.0 98.7 L256.0 98.7 L257.0 98.8 L258.0 98.8 L259.0 98.9 L260.0 99.1 L261.0 99.2 L262.0 99.4 L263.0 99.6 L264.0 99.8 L265.0 100.1 L266.0 100.3 L267.0 100.6 L268.0 101.0 L269.0 101.3 L270.0 101.7 L271.0 102.1 L272.0 102.5 L273.0 102.9 L274.0 103.4 L275.0 103.9 L276.0 104.4 L277.0 104.9 L278.0 105.5 L279.0 106.1 L280.0 106.7 L281.0 107.3 L282.0 107.9 L283.0 108.6 L284.0 109.3 L285.0 110.0 L286.0 110.7 L287.0 111.5 L288.0 112.3 L289.0 113.1 L290.0 113.9 L291.0 114.8 L292.0 115.7 L293.0 116.6 L294.0 117.5 L295.0 118.5 L296.0 119.5 L297.0 120.5 L298.0 121.5 L299.0 122.6 L300.0 123.7 L301.0 124.8 L302.0 125.9 L303.0 127.1 L304.0 128.3 L305.0 129.5 L306.0 130.8 L307.0 132.1 L308.0 133.4 L309.0 134.7 L310.0 136.0 L311.0 137.4 L312.0 138.8 L313.0 140.2 L314.0 141.7 L315.0 143.2 L316.0 144.6 L317.0 146.2 L318.0 147.7 L319.0 149.3 L320.0 150.8 L321.0 152.4 L322.0 154.1 L323.0 155.7 L324.0 157.4 L325.0 159.1 L326.0 160.8 L327.0 162.5 L328.0 164.2 L329.0 166.0 L330.0 167.8 L331.0 169.6 L332.0 171.4 L333.0 173.2 L334.0 175.1 L335.0 176.9 L336.0 178.8 L337.0 180.6 L338.0 182.5 L339.0 184.4 L340.0 186.3 L341.0 188.2 L342.0 190.1 L343.0 192.0 L344.0 193.9 L345.0 195.8 L346.0 197.8 L347.0 199.7 L348.0 201.6 L349.0 203.5 L350.0 205.4 L351.0 207.4 L352.0 209.3 L353.0 211.2 L354.0 213.1 L355.0 215.0 L356.0 216.9 L357.0 218.8 L358.0 220.7 L359.0 222.5 L360.0 224.4 L361.0 226.3 L362.0 228.2 L363.0 230.0 L364.0 231.9 L365.0 233.7 L366.0 235.6 L367.0 237.4 L368.0 239.2 L369.0 241.0 L370.0 242.8 L371.0 244.6 L372.0 246.4 L373.0 248.2 L374.0 250.0 L375.0 251.7 L376.0 253.5 L377.0 255.2 L378.0 256.9 L379.0 258.7 L380.0 260.4 L381.0 262.0 L382.0 263.7 L383.0 265.4 L384.0 267.0 L385.0 268.7 L386.0 270.3 L387.0 271.9 L388.0 273.5 L389.0 275.0 L390.0 276.6 L391.0 278.1 L392.0 279.6 L393.0 281.0 L394.0 282.5 L395.0 283.9 L396.0 285.2 L397.0 286.6 L398.0 287.9 L399.0 289.1 L400.0 290.3 L401.0 291.5 L402.0 292.6 L403.0 293.8 L404.0 294.8 L405.0 295.9 L406.0 296.9 L407.0 297.9 L408.0 298.8 L409.0 299.7 L410.0 300.6 L411.0 301.5 L412.0 302.3 L413.0 303.1 L414.0 303.9 L415.0 304.7 L416.0 305.5 L417.0 306.2 L418.0 306.9 L419.0 307.6 L420.0 308.3 L421.0 309.0 L422.0 309.7 L423.0 310.3 L424.0 311.0 L425.0 311.6 L426.0 312.2 L427.0 312.9 L428.0 313.5 L429.0 314.1 L430.0 314.7 L431.0 315.3 L432.0 315.9 L433.0 316.5 L434.0 317.1 L435.0 317.7 L436.0 318.3 L437.0 318.9 L438.0 319.5 L439.0 320.1 L440.0 320.7 L441.0 321.3 L442.0 321.9 L443.0 322.5 L444.0 323.1 L445.0 323.7 L446.0 324.3 L447.0 324.9 L448.0 325.5 L449.0 326.1 L450.0 326.7 L451.0 327.3 L452.0 327.9 L453.0 328.5 L454.0 329.1 L455.0 329.6 L456.0 330.2 L457.0 330.8 L458.0 331.3 L459.0 331.8 L460.0 332.4 L461.0 332.9 L462.0 333.4 L463.0 333.9 L464.0 334.4 L465.0 334.9 L466.0 335.3 L467.0 335.8 L468.0 336.2 L468.8 336.5 L469.2 336.7"/>
</g>
<g stroke="#000" stroke-width="2.7" fill="none">
<rect x="78.95" y="15.85" width="445.25" height="358.35"/>
</g>
<path d="M79.2 374.2 v-7.1 M134.8 374.2 v-3.9 M190.5 374.2 v-7.1 M246.1 374.2 v-3.9 M301.8 374.2 v-7.1 M357.4 374.2 v-3.9 M413.1 374.2 v-7.1 M468.8 374.2 v-3.9 M524.4 374.2 v-7.1 M78.95 374.2 h7.0 M78.95 338.4 h3.9 M78.95 302.6 h7.0 M78.95 266.7 h3.9 M78.95 230.9 h7.0 M78.95 195.1 h3.9 M78.95 159.3 h7.0 M78.95 123.5 h3.9 M78.95 87.6 h7.0 M78.95 51.8 h3.9 M78.95 16.0 h7.0" stroke="#000" stroke-width="2.2" fill="none"/>
<path d="M252.8 376 V50.5" stroke="#000" stroke-width="2.2" stroke-dasharray="13 11.68" fill="none"/>
<g font-family="'Liberation Sans','DejaVu Sans',sans-serif" font-weight="bold" fill="#000">
<g font-size="19.6" text-anchor="middle" lengthAdjust="spacingAndGlyphs">
<text x="79.1" y="395.8" textLength="34.4" lengthAdjust="spacingAndGlyphs">400</text>
<text x="190.4" y="395.8" textLength="34.4" lengthAdjust="spacingAndGlyphs">600</text>
<text x="301.7" y="395.8" textLength="34.4" lengthAdjust="spacingAndGlyphs">800</text>
<text x="413.0" y="395.8" textLength="46.5" lengthAdjust="spacingAndGlyphs">1000</text>
<text x="524.3" y="395.8" textLength="46.5" lengthAdjust="spacingAndGlyphs">1200</text>
</g>
<g font-size="19.6" text-anchor="end">
<text x="71.5" y="379.0" textLength="28.3" lengthAdjust="spacingAndGlyphs">0.0</text>
<text x="71.5" y="307.4" textLength="28.3" lengthAdjust="spacingAndGlyphs">0.2</text>
<text x="71.5" y="235.7" textLength="28.3" lengthAdjust="spacingAndGlyphs">0.4</text>
<text x="71.5" y="164.1" textLength="28.3" lengthAdjust="spacingAndGlyphs">0.6</text>
<text x="71.5" y="92.4" textLength="28.3" lengthAdjust="spacingAndGlyphs">0.8</text>
<text x="71.5" y="20.1" textLength="28.3" lengthAdjust="spacingAndGlyphs">1.0</text>
</g>
<text x="220" y="434.5" font-size="19" textLength="162.4" lengthAdjust="spacingAndGlyphs">Wavelength (nm)</text>
<text transform="translate(21.3 237.2) rotate(-90)" font-size="19" textLength="109" lengthAdjust="spacingAndGlyphs">Absorbance</text>
<g font-size="14.85">
<path d="M394.3 29.4 H429.3" stroke="#464646" stroke-width="2.6" stroke-linecap="round"/>
<text x="433.8" y="34.4">3.0 mmol/L</text>
<path d="M394.3 48.9 H429.3" stroke="#F52C30" stroke-width="2.6" stroke-linecap="round"/>
<text x="433.8" y="53.9">4.5 mmol/L</text>
<path d="M394.3 68.5 H429.3" stroke="#0C59D9" stroke-width="2.6" stroke-linecap="round"/>
<text x="433.8" y="73.5">6.0 mmol/L</text>
<path d="M394.3 88.1 H429.3" stroke="#1DA45A" stroke-width="2.6" stroke-linecap="round"/>
<text x="433.8" y="93.1">7.5 mmol/L</text>
<path d="M394.3 107.6 H429.3" stroke="#AA5EDC" stroke-width="2.6" stroke-linecap="round"/>
<text x="433.8" y="112.6">9.0 mmol/L</text>
<path d="M394.3 127.2 H429.3" stroke="#D09708" stroke-width="2.6" stroke-linecap="round"/>
<text x="433.8" y="132.2">10.5 mmol/L</text>
</g>
</g>
<g font-family="'Liberation Serif','DejaVu Serif',serif" fill="#000">
<text x="285.7" y="85.8" font-size="19.4" textLength="10.6" lengthAdjust="spacingAndGlyphs" stroke="#000" stroke-width="0.25">λ</text>
<text x="296.3" y="90.4" font-size="12.4" font-weight="bold" textLength="22" lengthAdjust="spacingAndGlyphs">max</text>
<text x="319" y="85.8" font-size="17.4" font-weight="bold" textLength="64.3" lengthAdjust="spacingAndGlyphs">=712nm</text>
</g>
</svg>
</body></html>
